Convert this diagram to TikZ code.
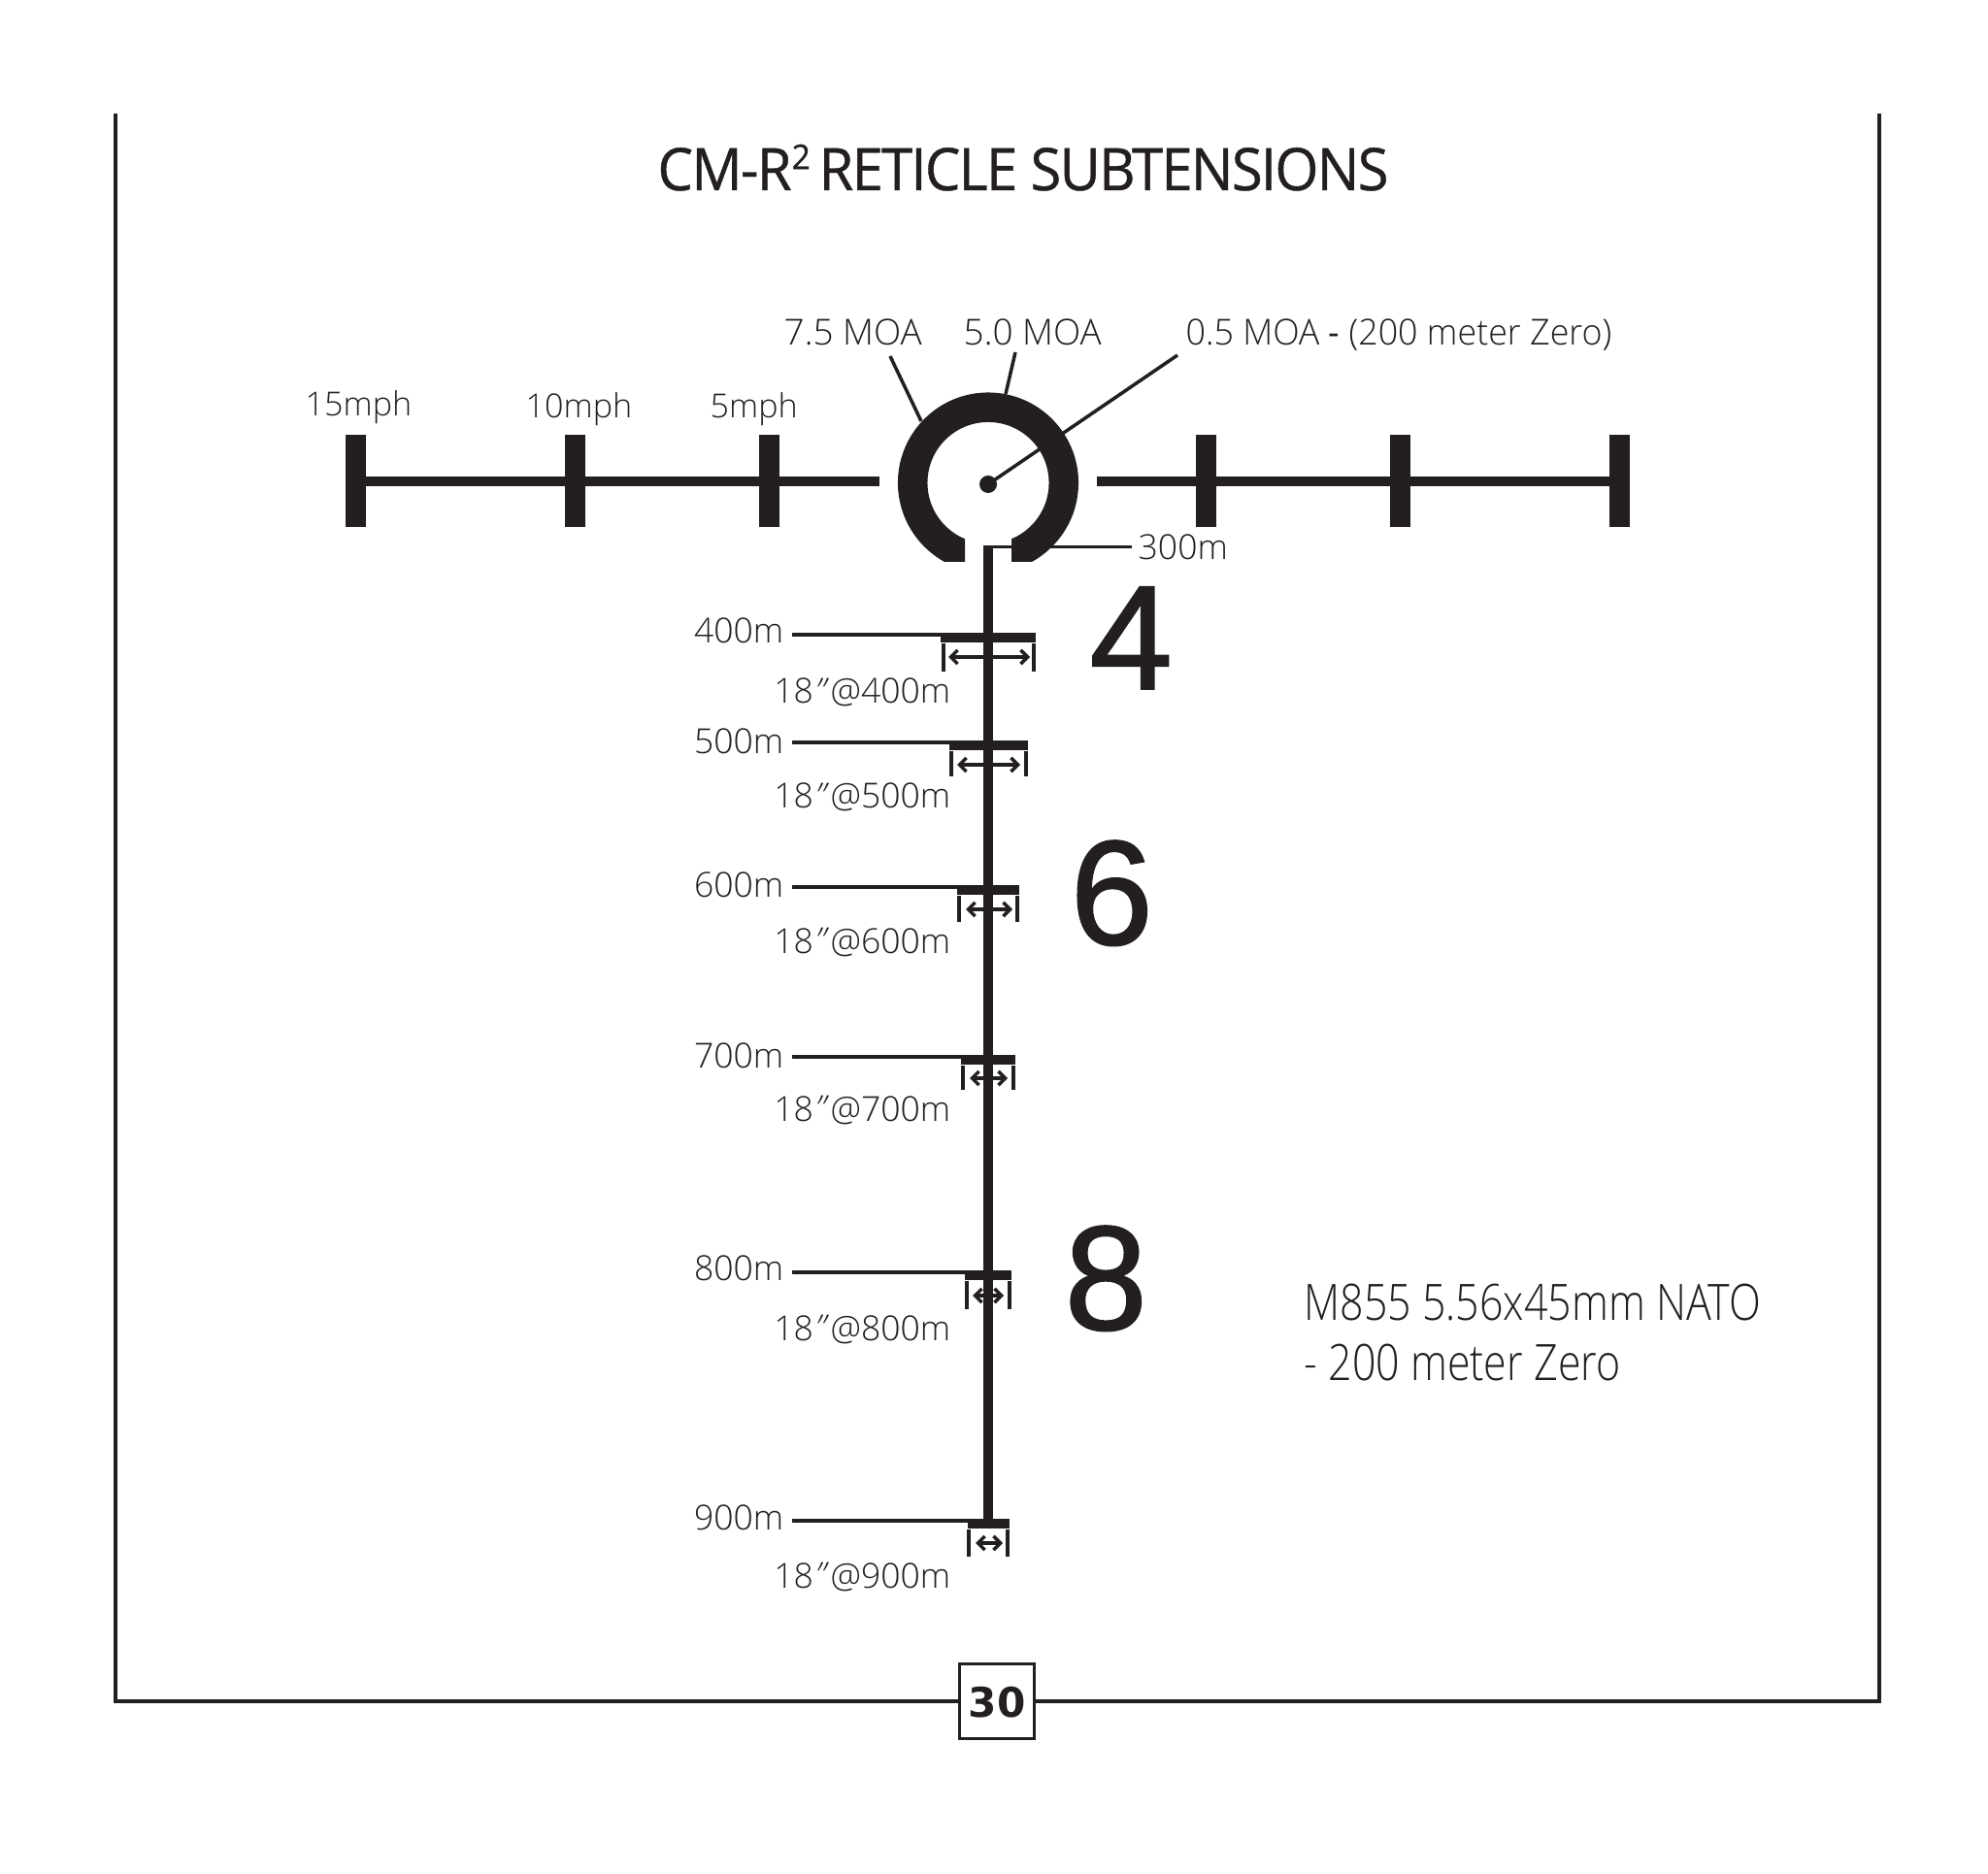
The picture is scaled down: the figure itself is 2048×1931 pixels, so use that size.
\documentclass[tikz,border=0pt]{standalone}
\usepackage{fontspec}
\usetikzlibrary{arrows.meta}
\setmainfont{Open Sans Light}
\newfontfamily\titlefont{Open Sans}[FakeBold=0.7,LetterSpace=-3]
\newfontfamily\dashfont{Open Sans}
\newfontfamily\pagefont{DejaVu Sans}
\newfontfamily\bignumfont{Liberation Sans}[FakeBold=1.3]
\definecolor{ink}{HTML}{231F20}

\tikzset{
  frameline/.style={ink, line width=0.95pt},
  leader/.style={ink, line width=1pt},
  hair/.style={ink, line width=0.95pt},
  span/.style={ink, line width=1pt, {Straight Barb[length=2pt,width=4pt]}-{Straight Barb[length=2pt,width=4pt]}},
  lbl/.style={text=ink, inner sep=0pt, font=\fontsize{10.1}{12}\selectfont},
  windlbl/.style={text=ink, inner sep=0pt, anchor=base west, font=\fontsize{9.7}{11}\selectfont},
  moalbl/.style={text=ink, inner sep=0pt, anchor=base west, font=\fontsize{10.5}{12}\selectfont},
  notelbl/.style={text=ink, inner sep=0pt, anchor=base west, xscale=0.83, font=\fontsize{14.7}{17}\selectfont},
  bignum/.style={text=ink, inner sep=0pt, anchor=base west, font=\bignumfont\fontsize{43.5}{46}\selectfont}
}

\begin{document}
\begin{tikzpicture}[x=0.01cm, y=-0.01cm]
  \useasboundingbox (0,0) rectangle (2048,1931);

  % page frame
  \draw[frameline] (119,117) -- (119,1753) -- (1936,1753) -- (1936,117);
  \node[draw=ink, line width=0.95pt, fill=white, minimum width=21.8pt, minimum height=21.8pt, inner sep=0pt] (pagebox) at (1027,1753) {};
  \node[text=ink, inner sep=0pt, anchor=base, font=\pagefont\bfseries\fontsize{12}{14}\selectfont] (pagenum) at (1027,1769) {30};

  % title
  \node[text=ink, inner sep=0pt, anchor=base, xscale=0.958, font=\titlefont\fontsize{17.2}{20}\selectfont] (title) at (1054,196) {CM-R\raisebox{0.36em}{\fontsize{10}{10}\selectfont 2}\hspace{-0.08em} RETICLE SUBTENSIONS};

  % windage bar
  \fill[ink] (376,491) rectangle (906,501);
  \fill[ink] (1130,491) rectangle (1668,501);
  \foreach \xt in {366,592,792,1242,1442,1668}
    \fill[ink] (\xt-10.5,448) rectangle (\xt+10.5,543);

  % ring, open at the bottom
  \begin{scope}
    \clip (900,380) rectangle (994,579) (1042,380) rectangle (1136,579) (994,380) rectangle (1042,498);
    \fill[ink, even odd rule] (1018,497.5) circle (0.93cm) (1018,497.5) circle (0.625cm);
  \end{scope}
  \fill[ink] (1018,499) circle (0.09cm);
  \coordinate (dot) at (1018,499);

  % stem
  \fill[ink] (1013,562) rectangle (1023,1570);
  \coordinate (stemtop) at (1013,563.5);
  \coordinate (lead300) at (1166,563.5);
  \draw[leader] (stemtop) -- (lead300);

  % holdover rows
  \foreach \rng/\yl/\bl/\br/\tl/\tr/\yb/\al/\ar/\ya/\ylab/\yat in {
    400/654/969/1067/972/1065/692/977/1061/677/663/725,
    500/765/978/1059/980/1057/800/986/1051/788/777/833,
    600/914/986/1050/988/1048/950/995/1043/937/924/982,
    700/1089/990/1046/992/1044/1123/999/1038/1111/1100/1155,
    800/1311/994/1042/996/1040/1349/1002/1034/1335/1319/1381,
    900/1567/997/1040/998/1038/1604/1005/1033/1590/1576/1636}{
    \fill[ink] (\bl,\yl-2) rectangle (\br,\yl+8);
    \coordinate (lead\rng) at (816,\yl);
    \coordinate (bar\rng) at (\bl,\yl);
    \draw[leader] (lead\rng) -- (bar\rng);
    \draw[hair] (\tl,\yl+9) -- (\tl,\yb);
    \draw[hair] (\tr,\yl+9) -- (\tr,\yb);
    \draw[span] (\al,\ya) -- (\ar,\ya);
    \node[lbl, anchor=base east] (range\rng) at (808,\ylab) {\rng m};
    \node[lbl, anchor=base east] (size\rng) at (980,\yat) {18\hspace{0.05em}\raisebox{0.02em}{\textit{”}}\hspace{0.05em}@\rng m};
  }
  \node[lbl, anchor=base west] (range300) at (1172,577) {300m};

  % wind labels
  \node[windlbl] (wind15) at (314,429) {15mph};
  \node[windlbl] (wind10) at (541,431) {10mph};
  \node[windlbl] (wind5) at (731,431) {5mph};

  % MOA labels and their leaders
  \node[moalbl] (moa75) at (807,356) {7.5 MOA};
  \node[moalbl] (moa50) at (992,356) {5.0 MOA};
  \node[moalbl, xscale=0.97] (moa05) at (1221,356) {0.5 MOA {\dashfont-} (200 meter Zero)};
  \coordinate (lead75) at (917,367);
  \coordinate (ring75) at (949,434);
  \coordinate (lead50) at (1046,363);
  \coordinate (ring50) at (1036,406);
  \coordinate (lead05) at (1213,366);
  \draw[leader] (lead75) -- (ring75);
  \draw[leader] (lead50) -- (ring50);
  \draw[leader] (lead05) -- (dot);

  % power numbers
  \node[bignum] (power4) at (1122,710) {4};
  \node[bignum] (power6) at (1102,973) {6};
  \node[bignum] (power8) at (1096,1370) {8};

  % cartridge note
  \node[notelbl] (ammo1) at (1343,1360) {M855 5.56x45mm NATO};
  \node[notelbl] (ammo2) at (1343,1422) {- 200 meter Zero};
\end{tikzpicture}
\end{document}
